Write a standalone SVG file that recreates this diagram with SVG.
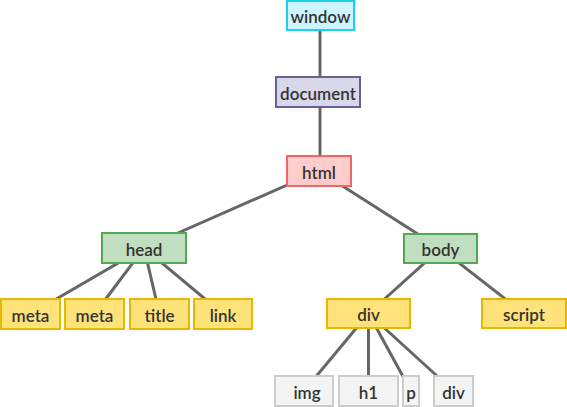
<svg xmlns="http://www.w3.org/2000/svg" width="567" height="407" viewBox="0 0 567 407">
<style>
  .e line { stroke: #666666; stroke-width: 3; }
  rect { stroke-width: 2; }
  text { font-family: Lato, "Open Sans", "DejaVu Sans", sans-serif; font-size: 17px; font-weight: 600; fill: #333333; text-anchor: middle; dominant-baseline: central; }
  .cyan rect { fill: #ccf5ff; stroke: #1ad1f0; }
  .purple rect { fill: #d8d8e8; stroke: #636399; }
  .red rect { fill: #ffcccc; stroke: #f06666; }
  .green rect { fill: #c0dfc0; stroke: #52a852; }
  .yellow rect { fill: #ffe37a; stroke: #e8b800; }
  .gray rect { fill: #f4f4f4; stroke: #cccccc; }
</style>
<g class="e" id="connectors">
  <line x1="320" y1="15.5" x2="320" y2="92"/>
  <line x1="320" y1="92" x2="320" y2="171"/>
  <line x1="319" y1="171" x2="144" y2="248"/>
  <line x1="319" y1="171" x2="440.5" y2="248.5"/>
  <line x1="144" y1="248" x2="30.5" y2="314"/>
  <line x1="144" y1="248" x2="94.5" y2="314"/>
  <line x1="144" y1="248" x2="159.5" y2="314"/>
  <line x1="144" y1="248" x2="223" y2="314"/>
  <line x1="440.5" y1="248.5" x2="368.5" y2="313.5"/>
  <line x1="440.5" y1="248.5" x2="524" y2="313.5"/>
  <line x1="368.5" y1="313.5" x2="304" y2="391"/>
  <line x1="368.5" y1="313.5" x2="368.5" y2="391"/>
  <line x1="368.5" y1="313.5" x2="411" y2="391"/>
  <line x1="368.5" y1="313.5" x2="453.5" y2="391"/>
</g>
<g id="window" class="cyan"><rect x="287" y="1" width="67" height="29"/><text x="320.5" y="16.5">window</text></g>
<g id="document" class="purple"><rect x="276" y="77" width="84" height="30"/><text x="318" y="93">document</text></g>
<g id="html" class="red"><rect x="287" y="156" width="64" height="30"/><text x="319" y="172">html</text></g>
<g id="head" class="green"><rect x="102" y="233" width="84" height="30"/><text x="144" y="249">head</text></g>
<g id="body" class="green"><rect x="404" y="234" width="73" height="29"/><text x="440.5" y="249.5">body</text></g>
<g id="meta1" class="yellow"><rect x="1" y="299" width="59" height="30"/><text x="30.5" y="315">meta</text></g>
<g id="meta2" class="yellow"><rect x="65" y="299" width="59" height="30"/><text x="94.5" y="315">meta</text></g>
<g id="title" class="yellow"><rect x="130" y="299" width="59" height="30"/><text x="159.5" y="315">title</text></g>
<g id="link" class="yellow"><rect x="194" y="299" width="58" height="30"/><text x="223" y="315">link</text></g>
<g id="div" class="yellow"><rect x="327" y="299" width="83" height="29"/><text x="368.5" y="314.5">div</text></g>
<g id="script" class="yellow"><rect x="482" y="299" width="84" height="29"/><text x="524" y="314.5">script</text></g>
<g id="img" class="gray"><rect x="275" y="376" width="58" height="30"/><text x="307" y="392">img</text></g>
<g id="h1" class="gray"><rect x="339" y="376" width="59" height="30"/><text x="368.5" y="392">h1</text></g>
<g id="p" class="gray"><rect x="403" y="376" width="16" height="30"/><text x="411" y="392">p</text></g>
<g id="div2" class="gray"><rect x="434" y="376" width="39" height="30"/><text x="453.5" y="392">div</text></g>
</svg>
